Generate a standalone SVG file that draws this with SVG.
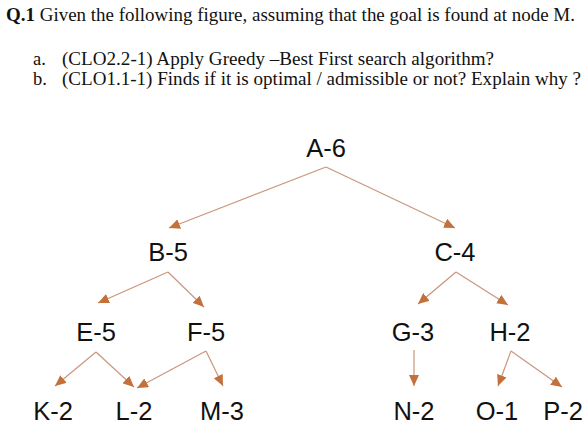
<svg xmlns="http://www.w3.org/2000/svg" width="586" height="427" viewBox="0 0 586 427">
<style>
.q{font-family:"Liberation Serif","Times New Roman",serif;fill:#111;}
.n{font-family:"Liberation Sans",Arial,sans-serif;font-size:25.5px;fill:#111;text-anchor:middle;}
.e{stroke:#C9967E;stroke-width:1.2;fill:none;marker-end:url(#ah);}
</style>
<defs>
<marker id="ah" markerUnits="userSpaceOnUse" markerWidth="12" markerHeight="10" refX="11" refY="5" orient="auto">
<path d="M0,0 L11,5 L0,10 Z" fill="#C4703A"/>
</marker>
</defs>
<rect width="586" height="427" fill="#fff"/>
<g id="question">
<text class="q" x="6" y="21" font-size="18.5" textLength="569" lengthAdjust="spacingAndGlyphs"><tspan font-weight="bold">Q.1</tspan> Given the following figure, assuming that the goal is found at node M.</text>
<text class="q" x="33" y="65" font-size="18.5">a.</text>
<text class="q" x="62" y="65" font-size="18.5" textLength="432" lengthAdjust="spacingAndGlyphs">(CLO2.2-1) Apply Greedy –Best First search algorithm?</text>
<text class="q" x="33" y="85" font-size="18.5">b.</text>
<text class="q" x="62" y="85" font-size="18.5" textLength="519" lengthAdjust="spacingAndGlyphs">(CLO1.1-1) Finds if it is optimal / admissible or not? Explain why ?</text>
</g>
<g id="connectors">
<line class="e" x1="326" y1="167" x2="169" y2="228"/>
<line class="e" x1="326" y1="167" x2="455" y2="228"/>
<line class="e" x1="168" y1="272" x2="98" y2="303"/>
<line class="e" x1="168" y1="272" x2="204" y2="307"/>
<line class="e" x1="456" y1="272" x2="418" y2="304"/>
<line class="e" x1="456" y1="272" x2="508" y2="305"/>
<line class="e" x1="96" y1="352" x2="55" y2="386"/>
<line class="e" x1="96" y1="352" x2="134" y2="387"/>
<line class="e" x1="206" y1="351" x2="137" y2="388"/>
<line class="e" x1="206" y1="351" x2="223" y2="386"/>
<line class="e" x1="414" y1="350" x2="414" y2="386"/>
<line class="e" x1="511" y1="351" x2="498" y2="386"/>
<line class="e" x1="511" y1="351" x2="562" y2="387"/>
</g>
<g id="node-A"><text class="n" x="326" y="157">A-6</text></g>
<g id="node-B"><text class="n" x="168" y="261">B-5</text></g>
<g id="node-C"><text class="n" x="455" y="261">C-4</text></g>
<g id="node-E"><text class="n" x="96" y="341">E-5</text></g>
<g id="node-F"><text class="n" x="206" y="341">F-5</text></g>
<g id="node-G"><text class="n" x="413" y="341">G-3</text></g>
<g id="node-H"><text class="n" x="510" y="341">H-2</text></g>
<g id="node-K"><text class="n" x="53" y="420">K-2</text></g>
<g id="node-L"><text class="n" x="134" y="420">L-2</text></g>
<g id="node-M"><text class="n" x="222" y="420">M-3</text></g>
<g id="node-N"><text class="n" x="414" y="420">N-2</text></g>
<g id="node-O"><text class="n" x="497" y="420">O-1</text></g>
<g id="node-P"><text class="n" x="563" y="420">P-2</text></g>
</svg>
